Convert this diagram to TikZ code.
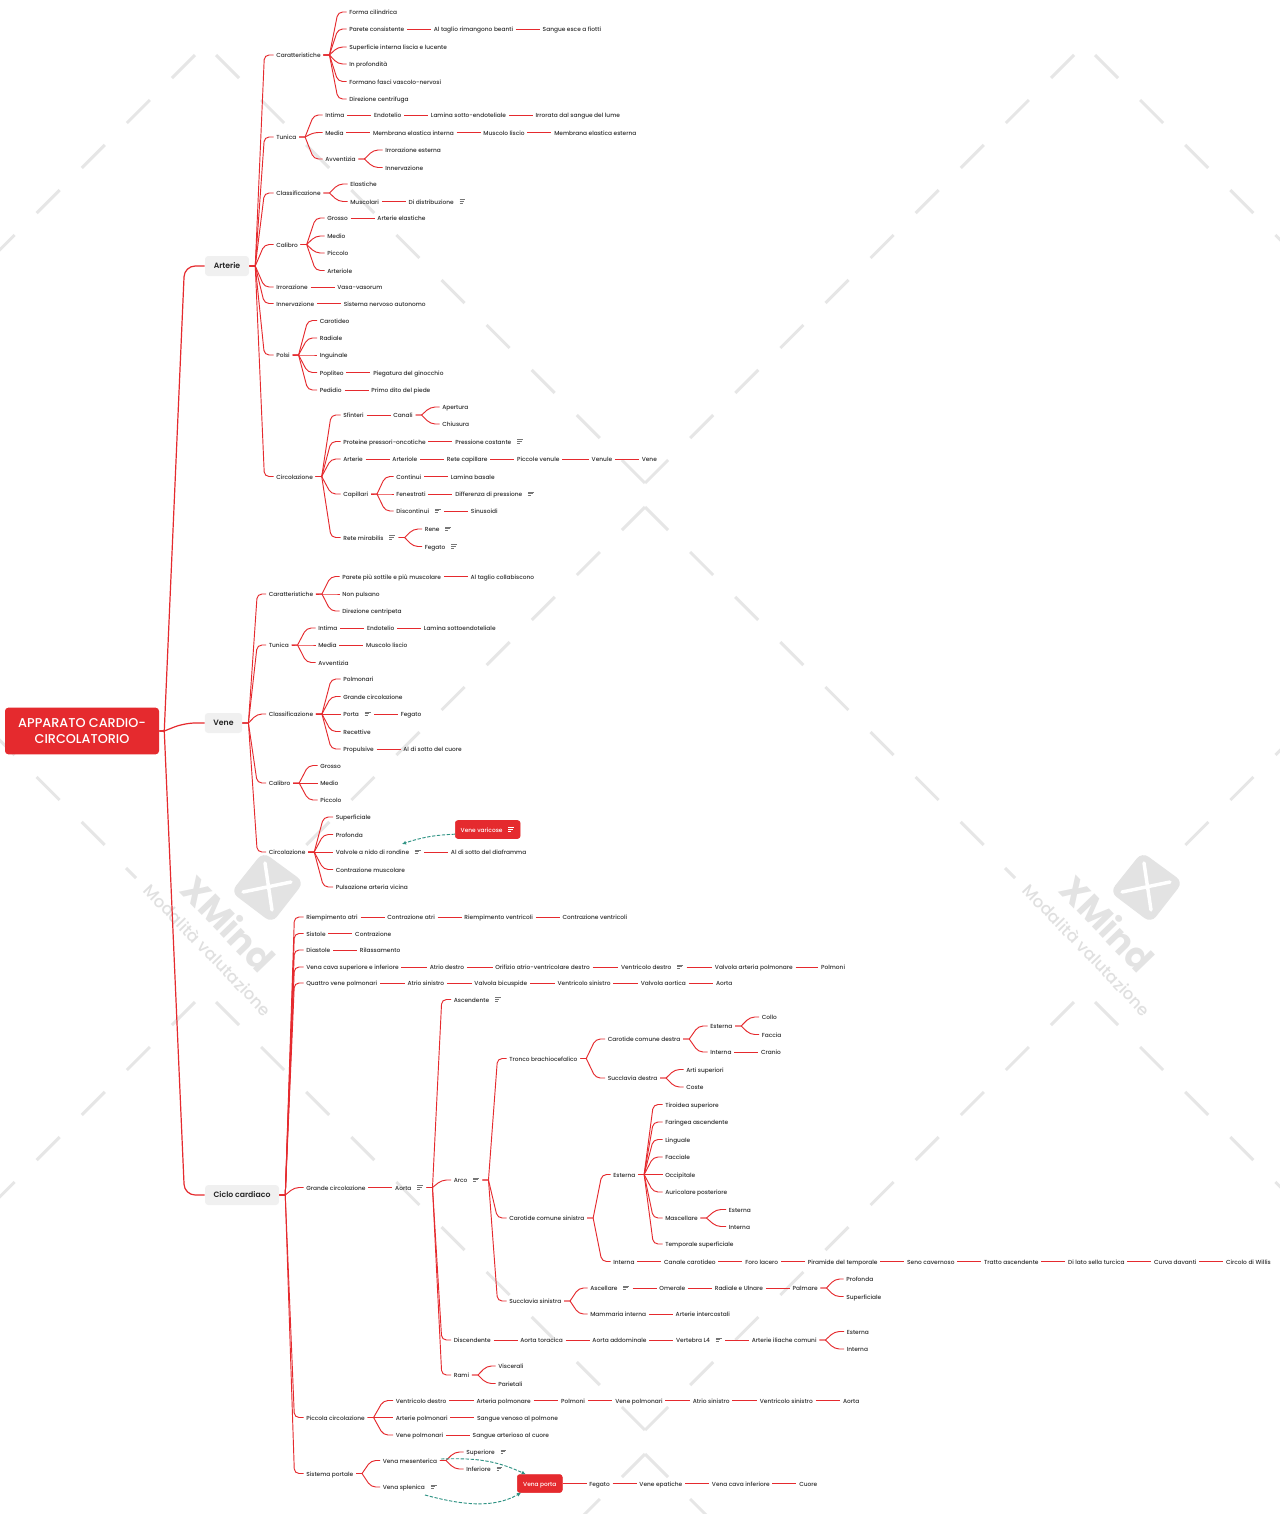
\documentclass[tikz,border=0pt]{standalone}
\usepackage{fontspec}
\setmainfont{Poppins Medium}[BoldFont={Poppins SemiBold}]
\newfontfamily\markfont{Poppins Bold}
\usetikzlibrary{shapes, arrows.meta, positioning, calc}
\definecolor{mapred}{HTML}{E52A2E}
\definecolor{maptext}{HTML}{2E2E2E}
\definecolor{mapteal}{HTML}{2E9283}
\definecolor{markgray}{HTML}{E6E6E6}
\newcommand{\notes}{\hspace{4.4pt}{\color{.!65}\rlap{\rule[3.4pt]{4.4pt}{.4pt}}\rlap{\rule[2.1pt]{3.3pt}{.4pt}}\rule[.8pt]{2.2pt}{.4pt}}\kern2.6pt}
\tikzset{
  topic/.style={anchor=west,inner xsep=1.9pt,inner ysep=0pt,text height=4.6pt,text depth=.6pt,text=maptext,font=\fontsize{4.4}{5}\selectfont},
  boxtopic/.style={anchor=center,fill=black!6,rounded corners=2.5pt,minimum height=15pt,inner xsep=0pt,text height=4.6pt,text depth=.6pt,text=black!85,font=\fontsize{5.8}{7}\selectfont\bfseries},
  redtopic/.style={topic,fill=mapred,draw=mapred,rounded corners=2pt,text=white,minimum height=13.5pt,inner xsep=2pt},
  link/.style={draw=mapred,line width=.7pt},
  branch/.style={draw=mapred,line width=.7pt,to path={let \p1=(\tikztostart.east),\p2=(\tikztotarget.west) in (\p1) -- ++(6,0) [rounded corners=3.5pt] -- ({(\x1+4.5pt+\x2)/2},\y2) -- (\p2)}},
  mainbranch/.style={draw=mapred,line width=.9pt,to path={let \p1=(\tikztostart.east),\p2=(\tikztotarget.west) in (\p1) -- ++(5,0) [rounded corners=8pt] -- ({(\x1+3.75pt+\x2)/2},\y2) -- (\p2)}},
  relation/.style={draw=mapteal,line width=.7pt,dashed,dash pattern=on 2.5pt off 1.2pt,-{Latex[length=3pt,width=3pt]}},
  markline/.style={draw=markgray,line width=2.2pt},
}
\begin{document}
\begin{tikzpicture}[x=0.75pt,y=-0.75pt,node distance=18pt]
\useasboundingbox (0,0) rectangle (1280,1514);
\fill[white] (0,0) rectangle (1280,1514);
% Watermark
\foreach \ox in {0,879}{
  \foreach \oy in {0,947}{
    \foreach \i in {0,...,9}{
      \draw[markline] ({216+\ox+45.1*\i},{55+\oy+45*\i}) -- ++(23,23);
      \draw[markline] ({195+\ox-45.1*\i},{55+\oy+45*\i}) -- ++(-23,23);
    }
    \foreach \i in {0,...,7}{
      \draw[markline] ({645+\ox-45.1*\i},{507+\oy+45*\i}) -- ++(-23,23);
      \draw[markline] ({-234+\ox+45.1*\i},{507+\oy+45*\i}) -- ++(23,23);
    }
  }
  \draw[markline] ({126+\ox},868) -- ++(10,10);
  \fill[black!11,rounded corners=6pt] ({263+\ox},852) -- ({304+\ox},882) -- ({272+\ox},923) -- ({231+\ox},892) -- cycle;
  \draw[white,line width=2.6pt,line cap=round] ({265+\ox},863) -- ({272+\ox},910);
  \draw[white,line width=2.6pt,line cap=round] ({243+\ox},892) -- ({291+\ox},882);
  \node[rotate=-46,text=black!11,font=\markfont\fontsize{26.5}{29}\selectfont] (mark\ox) at ({229+\ox},923) {XMind};
  \node[rotate=-46,text=black!12,font=\fontsize{12.4}{14}\selectfont] (mode\ox) at ({208+\ox},950) {Modalità valutazione};
}
% Root
\node[fill=mapred,rounded corners=2.5pt,minimum width=115.5pt,minimum height=35pt,align=center,text=white,font=\fontsize{9.6}{12.6}\selectfont] (Root) at (82,731) {APPARATO CARDIO-\\CIRCOLATORIO};
\node[boxtopic,minimum width=33pt] (Arterie) at (227,266) {Arterie};
\node[boxtopic,minimum width=28pt] (Vene) at (223.5,723) {Vene};
\node[boxtopic,minimum width=55.5pt] (Ciclo) at (242,1195) {Ciclo cardiaco};
\path[mainbranch] (Root) edge (Arterie) edge (Vene) edge (Ciclo);
% Arterie
\node[topic] (ACar) at (273.5,55) {Caratteristiche};
\node[topic] (ATun) at (273.5,137) {Tunica};
\node[topic] (AClas) at (273.5,193) {Classificazione};
\node[topic] (ACal) at (273.5,244.5) {Calibro};
\node[topic] (AIrr) at (273.5,287) {Irrorazione};
\node[topic] (AInn) at (273.5,303.5) {Innervazione};
\node[topic] (APol) at (273.5,355) {Polsi};
\node[topic] (ACir) at (273.5,476.5) {Circolazione};
\path[branch] (Arterie) edge (ACar) edge (ATun) edge (AClas) edge (ACal) edge (AIrr) edge (AInn) edge (APol) edge (ACir);
% Arterie, caratteristiche
\node[topic] (ACar1) at (346.5,12) {Forma cilindrica};
\node[topic] (ACar2) at (346.5,29) {Parete consistente};
\node[topic,right=of ACar2] (ACar2a) {Al taglio rimangono beanti};
\node[topic,right=of ACar2a] (ACar2b) {Sangue esce a fiotti};
\node[topic] (ACar3) at (346.5,47) {Superficie interna liscia e lucente};
\node[topic] (ACar4) at (346.5,64) {In profondità};
\node[topic] (ACar5) at (346.5,81.5) {Formano fasci vascolo-nervosi};
\node[topic] (ACar6) at (346.5,99) {Direzione centrifuga};
\path[branch] (ACar) edge (ACar1) edge (ACar2) edge (ACar3) edge (ACar4) edge (ACar5) edge (ACar6);
\draw[link] (ACar2) -- (ACar2a) -- (ACar2b);
% Arterie, tunica
\node[topic] (ATun1) at (322.5,115) {Intima};
\node[topic,right=of ATun1] (ATun1a) {Endotelio};
\node[topic,right=of ATun1a] (ATun1b) {Lamina sotto-endoteliale};
\node[topic,right=of ATun1b] (ATun1c) {Irrorata dal sangue del lume};
\node[topic] (ATun2) at (322.5,132.5) {Media};
\node[topic,right=of ATun2] (ATun2a) {Membrana elastica interna};
\node[topic,right=of ATun2a] (ATun2b) {Muscolo liscio};
\node[topic,right=of ATun2b] (ATun2c) {Membrana elastica esterna};
\node[topic] (ATun3) at (322.5,159) {Avventizia};
\node[topic] (ATun3a) at (382.5,150) {Irrorazione esterna};
\node[topic] (ATun3b) at (382.5,167.5) {Innervazione};
\path[branch] (ATun) edge (ATun1) edge (ATun2) edge (ATun3);
\path[branch] (ATun3) edge (ATun3a) edge (ATun3b);
\draw[link] (ATun1) -- (ATun1a) -- (ATun1b) -- (ATun1c);
\draw[link] (ATun2) -- (ATun2a) -- (ATun2b) -- (ATun2c);
% Arterie, classificazione e calibro
\node[topic] (AClas1) at (347.5,184) {Elastiche};
\node[topic] (AClas2) at (347.5,201.5) {Muscolari};
\node[topic,right=of AClas2] (AClas2a) {Di distribuzione\notes};
\path[branch] (AClas) edge (AClas1) edge (AClas2);
\draw[link] (AClas2) -- (AClas2a);
\node[topic] (ACal1) at (324.5,218) {Grosso};
\node[topic,right=of ACal1] (ACal1a) {Arterie elastiche};
\node[topic] (ACal2) at (324.5,236) {Medio};
\node[topic] (ACal3) at (324.5,253) {Piccolo};
\node[topic] (ACal4) at (324.5,270.5) {Arteriole};
\path[branch] (ACal) edge (ACal1) edge (ACal2) edge (ACal3) edge (ACal4);
\draw[link] (ACal1) -- (ACal1a);
\node[topic,right=of AIrr] (AIrr1) {Vasa-vasorum};
\node[topic,right=of AInn] (AInn1) {Sistema nervoso autonomo};
\draw[link] (AIrr) -- (AIrr1);
\draw[link] (AInn) -- (AInn1);
% Arterie, polsi
\node[topic] (APol1) at (317,320.5) {Carotideo};
\node[topic] (APol2) at (317,338) {Radiale};
\node[topic] (APol3) at (317,355) {Inguinale};
\node[topic] (APol4) at (317,372.5) {Popliteo};
\node[topic,right=of APol4] (APol4a) {Piegatura del ginocchio};
\node[topic] (APol5) at (317,390) {Pedidio};
\node[topic,right=of APol5] (APol5a) {Primo dito del piede};
\path[branch] (APol) edge (APol1) edge (APol2) edge (APol3) edge (APol4) edge (APol5);
\draw[link] (APol4) -- (APol4a);
\draw[link] (APol5) -- (APol5a);
% Arterie, circolazione
\node[topic] (ACir1) at (340.5,415) {Sfinteri};
\node[topic,right=of ACir1] (ACir1a) {Canali};
\node[topic] (ACir1b) at (439.5,407) {Apertura};
\node[topic] (ACir1c) at (439.5,424) {Chiusura};
\node[topic] (ACir2) at (340.5,441.5) {Proteine pressori-oncotiche};
\node[topic,right=of ACir2] (ACir2a) {Pressione costante\notes};
\node[topic] (ACir3) at (340.5,459) {Arterie};
\node[topic,right=of ACir3] (ACir3a) {Arteriole};
\node[topic,right=of ACir3a] (ACir3b) {Rete capillare};
\node[topic,right=of ACir3b] (ACir3c) {Piccole venule};
\node[topic,right=20pt of ACir3c] (ACir3d) {Venule};
\node[topic,right=of ACir3d] (ACir3e) {Vene};
\node[topic] (ACir4) at (340.5,494) {Capillari};
\node[topic] (ACir4a) at (393.5,476.5) {Continui};
\node[topic,right=of ACir4a] (ACir4b) {Lamina basale};
\node[topic] (ACir4c) at (393.5,494) {Fenestrati};
\node[topic,right=of ACir4c] (ACir4d) {Differenza di pressione\notes};
\node[topic] (ACir4e) at (393.5,511) {Discontinui\notes};
\node[topic,right=of ACir4e] (ACir4f) {Sinusoidi};
\node[topic] (ACir5) at (340.5,537.5) {Rete mirabilis\notes};
\node[topic] (ACir5a) at (422,529) {Rene\notes};
\node[topic] (ACir5b) at (422,546.5) {Fegato\notes};
\path[branch] (ACir) edge (ACir1) edge (ACir2) edge (ACir3) edge (ACir4) edge (ACir5);
\path[branch] (ACir1a) edge (ACir1b) edge (ACir1c);
\path[branch] (ACir4) edge (ACir4a) edge (ACir4c) edge (ACir4e);
\path[branch] (ACir5) edge (ACir5a) edge (ACir5b);
\draw[link] (ACir1) -- (ACir1a);
\draw[link] (ACir2) -- (ACir2a);
\draw[link] (ACir3) -- (ACir3a) -- (ACir3b) -- (ACir3c) -- (ACir3d) -- (ACir3e);
\draw[link] (ACir4a) -- (ACir4b);
\draw[link] (ACir4c) -- (ACir4d);
\draw[link] (ACir4e) -- (ACir4f);
% Vene
\node[topic] (VCar) at (266,594) {Caratteristiche};
\node[topic] (VTun) at (266,645) {Tunica};
\node[topic] (VClas) at (266,714) {Classificazione};
\node[topic] (VCal) at (266,783) {Calibro};
\node[topic] (VCir) at (266,852) {Circolazione};
\path[branch] (Vene) edge (VCar) edge (VTun) edge (VClas) edge (VCal) edge (VCir);
\node[topic] (VCar1) at (339.5,576.5) {Parete più sottile e più muscolare};
\node[topic,right=of VCar1] (VCar1a) {Al taglio collabiscono};
\node[topic] (VCar2) at (339.5,594) {Non pulsano};
\node[topic] (VCar3) at (339.5,611) {Direzione centripeta};
\path[branch] (VCar) edge (VCar1) edge (VCar2) edge (VCar3);
\draw[link] (VCar1) -- (VCar1a);
\node[topic] (VTun1) at (315.5,628) {Intima};
\node[topic,right=of VTun1] (VTun1a) {Endotelio};
\node[topic,right=of VTun1a] (VTun1b) {Lamina sottoendoteliale};
\node[topic] (VTun2) at (315.5,645) {Media};
\node[topic,right=of VTun2] (VTun2a) {Muscolo liscio};
\node[topic] (VTun3) at (315.5,662.5) {Avventizia};
\path[branch] (VTun) edge (VTun1) edge (VTun2) edge (VTun3);
\draw[link] (VTun1) -- (VTun1a) -- (VTun1b);
\draw[link] (VTun2) -- (VTun2a);
\node[topic] (VClas1) at (340.5,679) {Polmonari};
\node[topic] (VClas2) at (340.5,696.5) {Grande circolazione};
\node[topic] (VClas3) at (340.5,714) {Porta\notes};
\node[topic,right=of VClas3] (VClas3a) {Fegato};
\node[topic] (VClas4) at (340.5,731.5) {Recettive};
\node[topic] (VClas5) at (340.5,749) {Propulsive};
\node[topic,right=of VClas5] (VClas5a) {Al di sotto del cuore};
\path[branch] (VClas) edge (VClas1) edge (VClas2) edge (VClas3) edge (VClas4) edge (VClas5);
\draw[link] (VClas3) -- (VClas3a);
\draw[link] (VClas5) -- (VClas5a);
\node[topic] (VCal1) at (317.5,765.5) {Grosso};
\node[topic] (VCal2) at (317.5,783) {Medio};
\node[topic] (VCal3) at (317.5,800) {Piccolo};
\path[branch] (VCal) edge (VCal1) edge (VCal2) edge (VCal3);
\node[topic] (VCir1) at (333,817) {Superficiale};
\node[topic] (VCir2) at (333,834.5) {Profonda};
\node[topic] (VCir3) at (333,852) {Valvole a nido di rondine\notes};
\node[topic,right=of VCir3] (VCir3a) {Al di sotto del diaframma};
\node[topic] (VCir4) at (333,869.5) {Contrazione muscolare};
\node[topic] (VCir5) at (333,887) {Pulsazione arteria vicina};
\path[branch] (VCir) edge (VCir1) edge (VCir2) edge (VCir3) edge (VCir4) edge (VCir5);
\draw[link] (VCir3) -- (VCir3a);
\node[redtopic,minimum width=48.7pt] (Varicose) at (455,829.5) {Vene varicose\notes};
\coordinate (ValvolaMark) at (402,844);
\draw[relation] ([yshift=-3.5pt]Varicose.west) to[bend right=8] (ValvolaMark);
% Ciclo cardiaco
\node[topic] (CRie) at (303.5,917) {Riempimento atri};
\node[topic,right=of CRie] (CRie1) {Contrazione atri};
\node[topic,right=of CRie1] (CRie2) {Riempimento ventricoli};
\node[topic,right=of CRie2] (CRie3) {Contrazione ventricoli};
\node[topic] (CSis) at (303.5,933.5) {Sistole};
\node[topic,right=of CSis] (CSis1) {Contrazione};
\node[topic] (CDia) at (303.5,950) {Diastole};
\node[topic,right=of CDia] (CDia1) {Rilassamento};
\node[topic] (CCav) at (303.5,967) {Vena cava superiore e inferiore};
\node[topic,right=19.2pt of CCav] (CCav1) {Atrio destro};
\node[topic,right=19.2pt of CCav1] (CCav2) {Orifizio atrio-ventricolare destro};
\node[topic,right=19.2pt of CCav2] (CCav3) {Ventricolo destro\notes};
\node[topic,right=19.2pt of CCav3] (CCav4) {Valvola arteria polmonare};
\node[topic,right=17pt of CCav4] (CCav5) {Polmoni};
\node[topic] (CQua) at (303.5,983) {Quattro vene polmonari};
\node[topic,right=18.5pt of CQua] (CQua1) {Atrio sinistro};
\node[topic,right=18.5pt of CQua1] (CQua2) {Valvola bicuspide};
\node[topic,right=18.5pt of CQua2] (CQua3) {Ventricolo sinistro};
\node[topic,right=18.5pt of CQua3] (CQua4) {Valvola aortica};
\node[topic,right=18.5pt of CQua4] (CQua5) {Aorta};
\node[topic] (CGra) at (303.5,1187.5) {Grande circolazione};
\node[topic,right=of CGra] (CAorta) {Aorta\notes};
\node[topic] (CPic) at (303.5,1417.5) {Piccola circolazione};
\node[topic] (CPor) at (303.5,1473.5) {Sistema portale};
\path[branch] (Ciclo) edge (CRie) edge (CSis) edge (CDia) edge (CCav) edge (CQua) edge (CGra) edge (CPic) edge (CPor);
\draw[link] (CRie) -- (CRie1) -- (CRie2) -- (CRie3);
\draw[link] (CSis) -- (CSis1);
\draw[link] (CDia) -- (CDia1);
\draw[link] (CCav) -- (CCav1) -- (CCav2) -- (CCav3) -- (CCav4) -- (CCav5);
\draw[link] (CQua) -- (CQua1) -- (CQua2) -- (CQua3) -- (CQua4) -- (CQua5);
\draw[link] (CGra) -- (CAorta);
% Aorta
\node[topic] (Asc) at (451,999.5) {Ascendente\notes};
\node[topic] (Arco) at (451,1180) {Arco\notes};
\node[topic] (Dis) at (451,1340) {Discendente};
\node[topic] (Rami) at (451,1375) {Rami};
\path[branch] (CAorta) edge (Asc) edge (Arco) edge (Dis) edge (Rami);
\node[topic] (Tronco) at (506.5,1058.5) {Tronco brachiocefalico};
\node[topic] (CaroS) at (506.5,1218) {Carotide comune sinistra};
\node[topic] (SuccS) at (506.5,1301) {Succlavia sinistra};
\path[branch] (Arco) edge (Tronco) edge (CaroS) edge (SuccS);
% Tronco brachiocefalico
\node[topic] (CaroD) at (605,1039) {Carotide comune destra};
\node[topic] (SuccD) at (605,1078) {Succlavia destra};
\path[branch] (Tronco) edge (CaroD) edge (SuccD);
\node[topic] (CaroD1) at (707.5,1026) {Esterna};
\node[topic] (CaroD1a) at (759,1017) {Collo};
\node[topic] (CaroD1b) at (759,1034.5) {Faccia};
\node[topic] (CaroD2) at (707.5,1052) {Interna};
\node[topic,right=of CaroD2] (CaroD2a) {Cranio};
\path[branch] (CaroD) edge (CaroD1) edge (CaroD2);
\path[branch] (CaroD1) edge (CaroD1a) edge (CaroD1b);
\draw[link] (CaroD2) -- (CaroD2a);
\node[topic] (SuccD1) at (683.5,1069.5) {Arti superiori};
\node[topic] (SuccD2) at (683.5,1087) {Coste};
\path[branch] (SuccD) edge (SuccD1) edge (SuccD2);
% Carotide comune sinistra
\node[topic] (CaroS1) at (610.5,1174.5) {Esterna};
\node[topic] (CaroS2) at (610.5,1261.5) {Interna};
\path[branch] (CaroS) edge (CaroS1) edge (CaroS2);
\node[topic] (Est1) at (662.5,1104.5) {Tiroidea superiore};
\node[topic] (Est2) at (662.5,1122) {Faringea ascendente};
\node[topic] (Est3) at (662.5,1139.5) {Linguale};
\node[topic] (Est4) at (662.5,1157) {Facciale};
\node[topic] (Est5) at (662.5,1174.5) {Occipitale};
\node[topic] (Est6) at (662.5,1192) {Auricolare posteriore};
\node[topic] (Est7) at (662.5,1218) {Mascellare};
\node[topic] (Est7a) at (726,1209.5) {Esterna};
\node[topic] (Est7b) at (726,1226.5) {Interna};
\node[topic] (Est8) at (662.5,1244) {Temporale superficiale};
\path[branch] (CaroS1) edge (Est1) edge (Est2) edge (Est3) edge (Est4) edge (Est5) edge (Est6) edge (Est7) edge (Est8);
\path[branch] (Est7) edge (Est7a) edge (Est7b);
\node[topic,right=of CaroS2] (Int1) {Canale carotideo};
\node[topic,right=of Int1] (Int2) {Foro lacero};
\node[topic,right=of Int2] (Int3) {Piramide del temporale};
\node[topic,right=of Int3] (Int4) {Seno cavernoso};
\node[topic,right=of Int4] (Int5) {Tratto ascendente};
\node[topic,right=of Int5] (Int6) {Di lato sella turcica};
\node[topic,right=of Int6] (Int7) {Curva davanti};
\node[topic,right=of Int7] (Int8) {Circolo di Willis};
\draw[link] (CaroS2) -- (Int1) -- (Int2) -- (Int3) -- (Int4) -- (Int5) -- (Int6) -- (Int7) -- (Int8);
% Succlavia sinistra
\node[topic] (Asce) at (587.5,1288) {Ascellare\notes};
\node[topic,right=of Asce] (Asce1) {Omerale};
\node[topic,right=of Asce1] (Asce2) {Radiale e Ulnare};
\node[topic,right=of Asce2] (Asce3) {Palmare};
\node[topic] (Asce3a) at (843.5,1279) {Profonda};
\node[topic] (Asce3b) at (843.5,1296.5) {Superficiale};
\node[topic] (Mamm) at (587.5,1314) {Mammaria interna};
\node[topic,right=of Mamm] (Mamm1) {Arterie intercostali};
\path[branch] (SuccS) edge (Asce) edge (Mamm);
\path[branch] (Asce3) edge (Asce3a) edge (Asce3b);
\draw[link] (Asce) -- (Asce1) -- (Asce2) -- (Asce3);
\draw[link] (Mamm) -- (Mamm1);
% Discendente e rami
\node[topic,right=of Dis] (Dis1) {Aorta toracica};
\node[topic,right=of Dis1] (Dis2) {Aorta addominale};
\node[topic,right=of Dis2] (Dis3) {Vertebra L4\notes};
\node[topic,right=of Dis3] (Dis4) {Arterie iliache comuni};
\node[topic] (Dis4a) at (844,1331.5) {Esterna};
\node[topic] (Dis4b) at (844,1349) {Interna};
\path[branch] (Dis4) edge (Dis4a) edge (Dis4b);
\draw[link] (Dis) -- (Dis1) -- (Dis2) -- (Dis3) -- (Dis4);
\node[topic] (Rami1) at (495.5,1366) {Viscerali};
\node[topic] (Rami2) at (495.5,1383.5) {Parietali};
\path[branch] (Rami) edge (Rami1) edge (Rami2);
% Piccola circolazione
\node[topic] (CPic1) at (393,1400.5) {Ventricolo destro};
\node[topic,right=18.5pt of CPic1] (CPic1a) {Arteria polmonare};
\node[topic,right=18.5pt of CPic1a] (CPic1b) {Polmoni};
\node[topic,right=18.5pt of CPic1b] (CPic1c) {Vene polmonari};
\node[topic,right=18.5pt of CPic1c] (CPic1d) {Atrio sinistro};
\node[topic,right=18.5pt of CPic1d] (CPic1e) {Ventricolo sinistro};
\node[topic,right=18.5pt of CPic1e] (CPic1f) {Aorta};
\node[topic] (CPic2) at (393,1417.5) {Arterie polmonari};
\node[topic,right=of CPic2] (CPic2a) {Sangue venoso al polmone};
\node[topic] (CPic3) at (393,1435) {Vene polmonari};
\node[topic,right=of CPic3] (CPic3a) {Sangue arterioso al cuore};
\path[branch] (CPic) edge (CPic1) edge (CPic2) edge (CPic3);
\draw[link] (CPic1) -- (CPic1a) -- (CPic1b) -- (CPic1c) -- (CPic1d) -- (CPic1e) -- (CPic1f);
\draw[link] (CPic2) -- (CPic2a);
\draw[link] (CPic3) -- (CPic3a);
% Sistema portale
\node[topic] (Mese) at (380,1460.5) {Vena mesenterica};
\node[topic] (Mese1) at (463.5,1452) {Superiore\notes};
\node[topic] (Mese2) at (463.5,1469) {Inferiore\notes};
\node[topic] (Sple) at (380,1487) {Vena splenica\notes};
\path[branch] (CPor) edge (Mese) edge (Sple);
\path[branch] (Mese) edge (Mese1) edge (Mese2);
\node[redtopic,minimum width=33.75pt] (Porta) at (517,1483.5) {Vena porta};
\node[topic,right=of Porta] (Porta1) {Fegato};
\node[topic,right=of Porta1] (Porta2) {Vene epatiche};
\node[topic,right=of Porta2] (Porta3) {Vena cava inferiore};
\node[topic,right=of Porta3] (Porta4) {Cuore};
\draw[link] (Porta) -- (Porta1) -- (Porta2) -- (Porta3) -- (Porta4);
\coordinate (MeseOut) at (441,1459);
\coordinate (SpleOut) at (425,1495);
\draw[relation] (MeseOut) to[out=2,in=155] ([xshift=6.5pt]Porta.north west);
\draw[relation] (SpleOut) to[out=-15,in=210,looseness=.9] ([xshift=3pt]Porta.south west);
\end{tikzpicture}
\end{document}
